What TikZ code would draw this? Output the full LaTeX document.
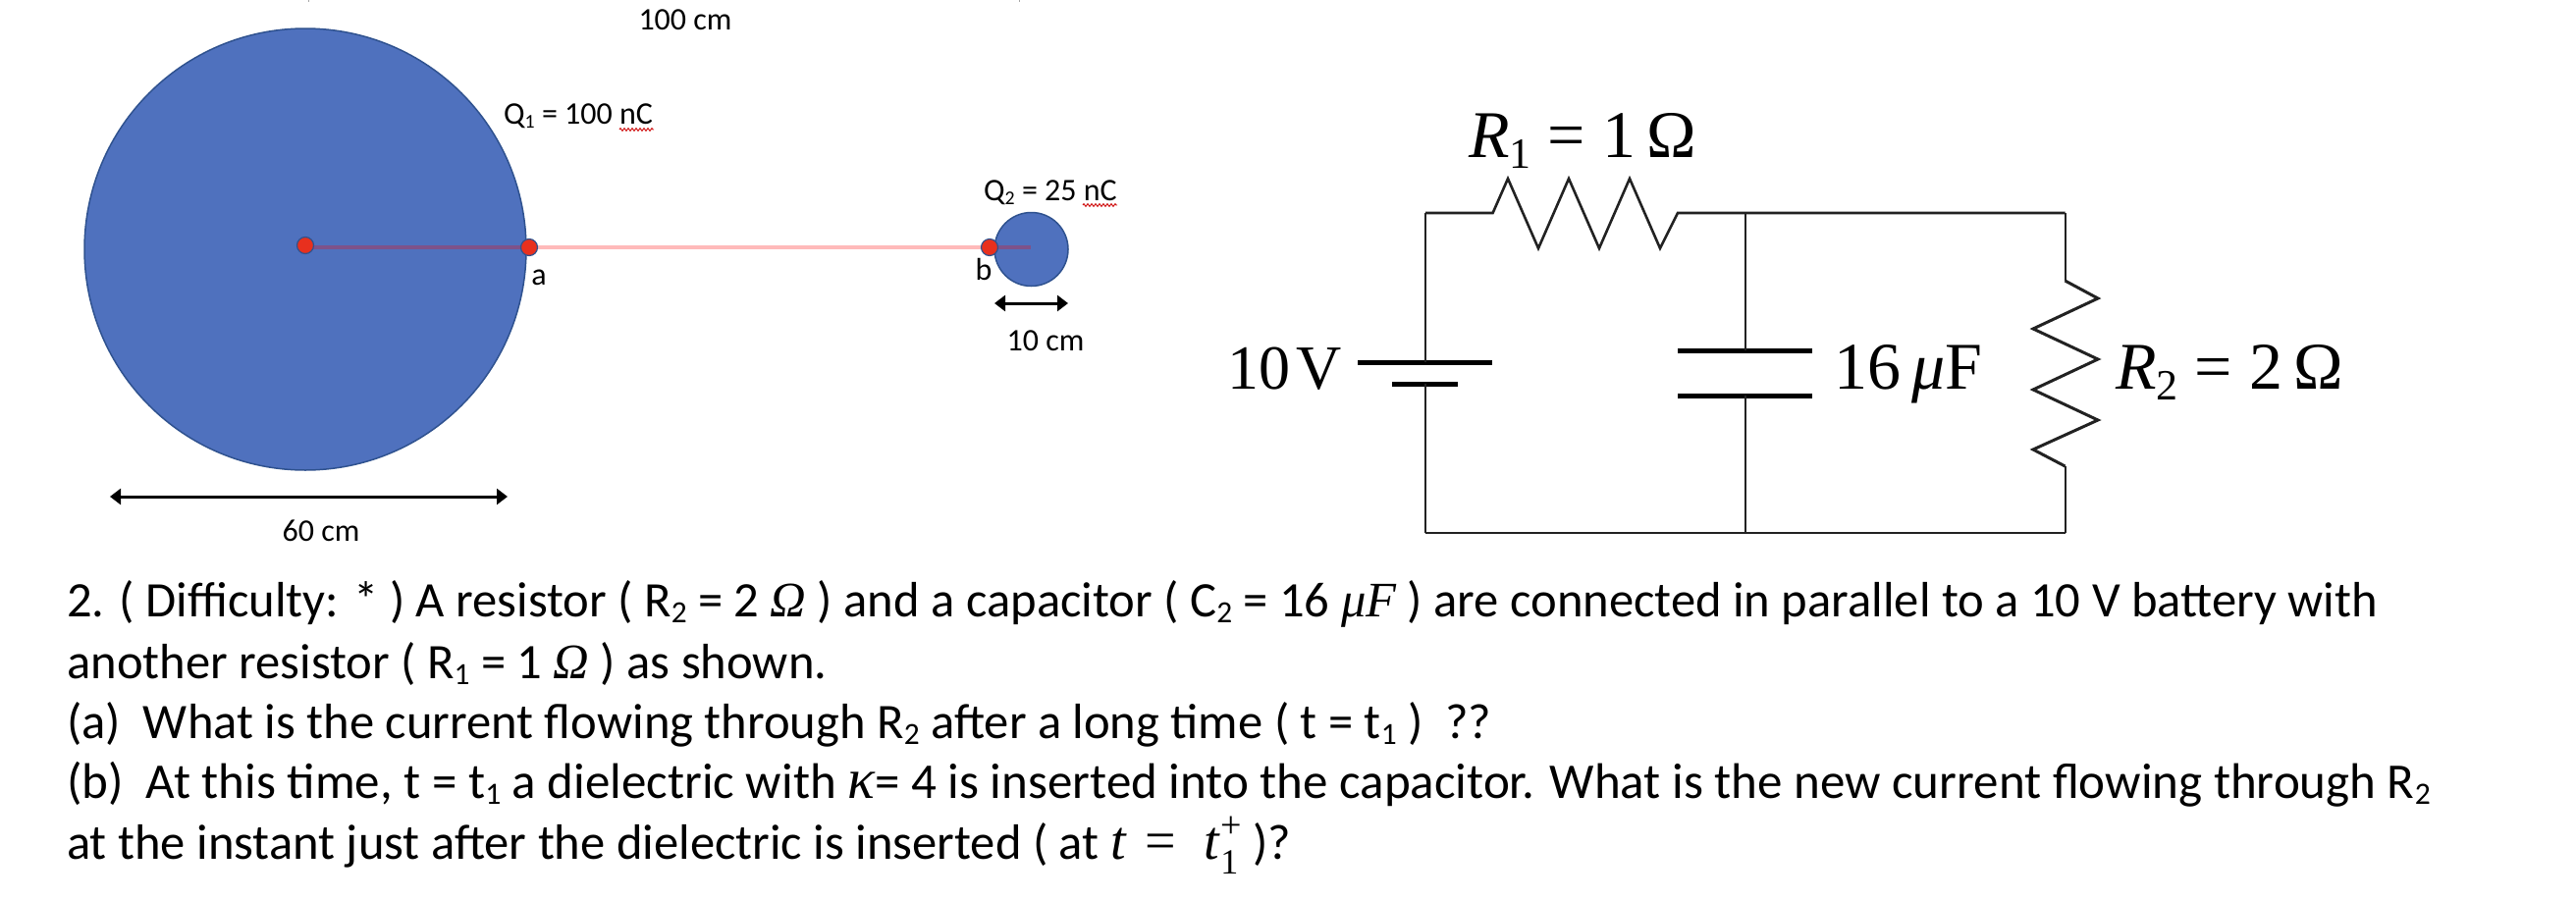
\documentclass[tikz,border=0pt]{standalone}
\usepackage{fontspec}
\usetikzlibrary{arrows.meta,decorations.pathmorphing}
\setmainfont{Carlito}
\newfontfamily\tim{Liberation Serif}
\newcommand\fs[1]{\fontsize{#1}{#1}\selectfont}
\newcommand\omg{{\tim\itshape Ω}}
\newcommand\mi[1]{{\tim\itshape #1}}
\newcommand\dn[1]{\raisebox{-.13em}{\fontsize{.62em}{.62em}\selectfont #1}}
\definecolor{ballblue}{HTML}{4F71BE}
\definecolor{balledge}{HTML}{2F528F}
\definecolor{dotred}{HTML}{E8301E}
\definecolor{wire}{HTML}{222222}
\tikzset{
  ball/.style={circle,fill=ballblue,draw=balledge,line width=1.5pt,inner sep=0pt},
  chargedot/.style={circle,fill=dotred,draw=balledge,line width=1.2pt,inner sep=0pt,minimum size=17pt},
  radial/.style={draw=red,opacity=.27,line width=4pt},
  dimarrow/.style={{Triangle[width=16pt,length=11pt]}-{Triangle[width=16pt,length=11pt]},line width=3pt,black},
  squiggle/.style={draw=red!80!black,line width=.9pt,decorate,decoration={zigzag,segment length=4pt,amplitude=1.4pt}},
  small/.style={font=\fs{32},inner sep=0pt,anchor=base},
  cir/.style={font=\tim\fs{68},inner sep=0pt,anchor=base west,text=black},
  wirel/.style={draw=wire,line width=2pt,line join=miter},
  plate/.style={draw=black,line width=5pt},
  body/.style={font=\fs{50.6},inner sep=0pt,anchor=base west},
  cropmark/.style={draw=black!35,line width=1pt},
}
\begin{document}
\begin{tikzpicture}[x=1pt,y=-1pt]
\useasboundingbox (0,0) rectangle (2624,916);
% marks cut by the top edge
\coordinate (m1a) at (314,0); \coordinate (m1b) at (314,2);
\coordinate (m2a) at (1038,0); \coordinate (m2b) at (1038,2);
\draw[cropmark] (m1a) -- (m1b);
\draw[cropmark] (m2a) -- (m2b);
% spheres
\node[ball,minimum size=450pt] (big) at (311,254) {};
\node[ball,minimum size=75pt] (little) at (1050.5,254) {};
% radial line
\coordinate (cb) at (311,252);
\coordinate (cl) at (1050,252);
\draw[radial] (cb) -- (cl);
\node[chargedot] (dc) at (311,250) {};
\node[chargedot] (da) at (539,252) {};
\node[chargedot] (db) at (1008,252) {};
% dimension arrows
\coordinate (al) at (112,506); \coordinate (ar) at (517,506);
\draw[dimarrow] (al) -- (ar);
\coordinate (bl) at (1013,309); \coordinate (br) at (1088,309);
\draw[dimarrow] (bl) -- (br);
% labels
\node[small] (t100) at (698,30) {100 cm};
\node[small,anchor=base west] (q1) at (513,126) {Q\dn{1} = 100 nC};
\node[small,anchor=base west] (q2) at (1002,204) {Q\dn{2} = 25 nC};
\node[small] (la) at (549,290) {a};
\node[small] (lb) at (1002,285) {b};
\node[small] (t10) at (1065,357) {10 cm};
\node[small] (t60) at (327,551) {60 cm};
\coordinate (s1a) at (631,132); \coordinate (s1b) at (666,132);
\draw[squiggle] (s1a) -- (s1b);
\coordinate (s2a) at (1103,209); \coordinate (s2b) at (1138,209);
\draw[squiggle] (s2a) -- (s2b);
% circuit corners
\coordinate (tl) at (1452,217);
\coordinate (tm) at (1778,217);
\coordinate (tr) at (2103.5,217);
\coordinate (bl2) at (1452,543);
\coordinate (bm) at (1778,543);
\coordinate (br2) at (2103.5,543);
% battery
\coordinate (bat1) at (1452,369);
\coordinate (bat2) at (1452,391);
\coordinate (bat1l) at (1383,369); \coordinate (bat1r) at (1520,369);
\coordinate (bat2l) at (1418,391); \coordinate (bat2r) at (1485,391);
\draw[plate] (bat1l) -- (bat1r);
\draw[plate] (bat2l) -- (bat2r);
\draw[wirel] (bat1) -- (tl);
\draw[wirel] (bat2) -- (bl2);
% capacitor
\coordinate (cap1) at (1778,357);
\coordinate (cap2) at (1778,403);
\coordinate (cap1l) at (1709,357); \coordinate (cap1r) at (1846,357);
\coordinate (cap2l) at (1709,403); \coordinate (cap2r) at (1846,403);
\draw[plate] (cap1l) -- (cap1r);
\draw[plate] (cap2l) -- (cap2r);
\draw[wirel] (tm) -- (cap1);
\draw[wirel] (cap2) -- (bm);
% R1
\coordinate (r1a) at (1520.6,217);
\coordinate (r1b) at (1709,217);
\draw[wirel,line width=2.6pt] (tl) -- (r1a) -- (1536,182) -- (1567,253) -- (1598,182) -- (1629,253) -- (1660,182) -- (1691,253) -- (r1b) -- (tr);
% R2
\coordinate (r2a) at (2103.5,286);
\coordinate (r2b) at (2103.5,475);
\draw[wirel] (tr) -- (r2a);
\draw[wirel,line width=3pt] (r2a) -- (2137,304) -- (2071,335) -- (2137,366) -- (2071,397) -- (2137,428) -- (2071,458) -- (r2b);
\draw[wirel] (r2b) -- (br2);
\draw[wirel,line width=2.6pt] (bl2) -- (br2);
% circuit labels
\node[cir] (r1l) at (1496,160) {\itshape R{\upshape\fs{44}\raisebox{-.25em}{1}} {\upshape = 1\,Ω}};
\node[cir,font=\tim\fs{64}] (vl) at (1250,396) {10\kern.1em V};
\node[cir] (cl2) at (1868,396) {16\,{\itshape μ}F};
\node[cir] (r2l) at (2155,396) {\itshape R{\upshape\fs{44}\raisebox{-.25em}{2}} {\upshape = 2\,Ω}};
% problem text
\node[body] (l1) at (68,628) {2. ( Difficulty: * ) A resistor ( R\dn{2} = 2 \omg{} ) and a capacitor ( C\dn{2} = 16 \mi{μF} ) are connected in parallel to a 10 V battery with};
\node[body] (l2) at (68,691) {another resistor ( R\dn{1} = 1 \omg{} ) as shown.};
\node[body] (l3) at (68,752) {(a)\ \ What is the current flowing through R\dn{2} after a long time ( t = t\dn{1} )\ \ ??};
\node[body,font=\fs{51}] (l4) at (68,813) {(b)\ \ At this time, t = t\dn{1} a dielectric with {\fs{58}\mi{κ}}= 4 is inserted into the capacitor. What is the new current flowing through R\dn{2}};
\node[body] (l5) at (68,875) {at the instant just after the dielectric is inserted ( at {\fs{56}\mi{t}\kern6pt\tim\ = \kern14pt\mi{t}}\kern.03em\rlap{\raisebox{-.3em}{\fs{36}\tim 1}}\raisebox{.42em}{\fs{38}\tim +} )?};
\end{tikzpicture}
\end{document}
